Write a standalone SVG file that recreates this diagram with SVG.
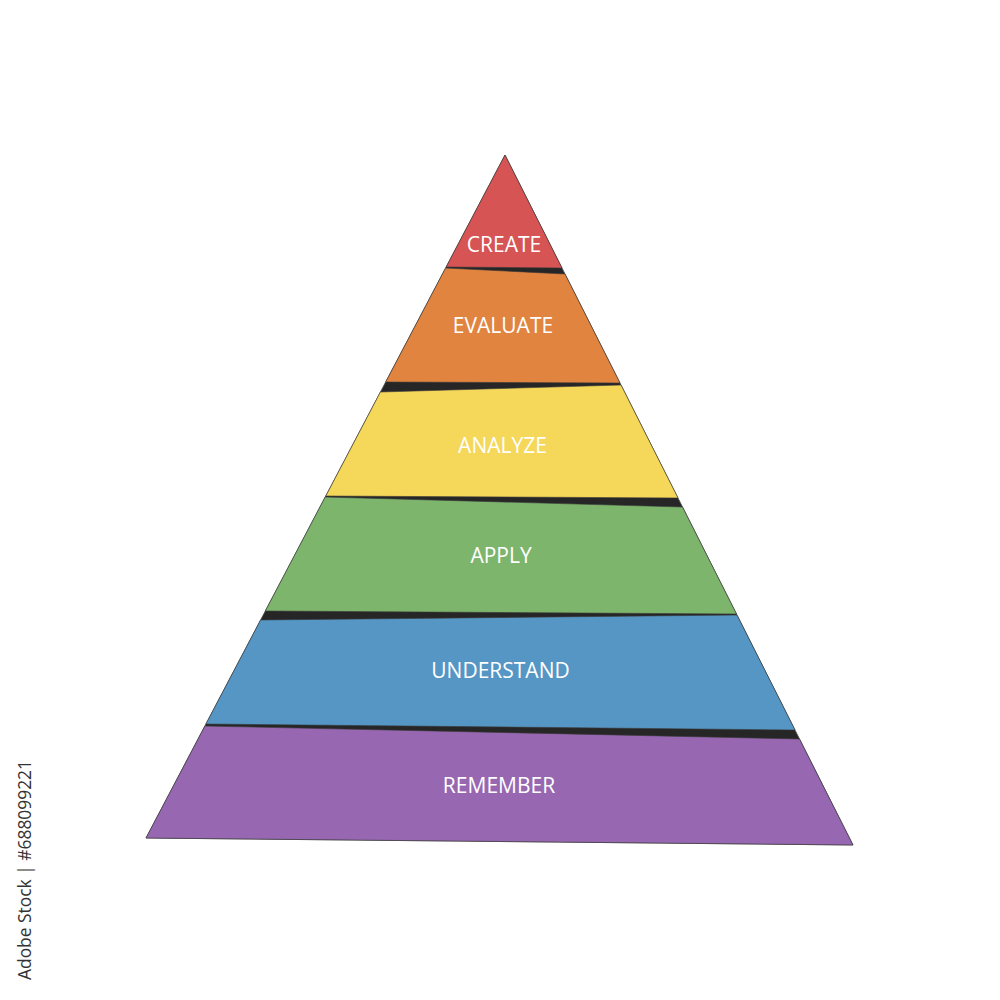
<svg xmlns="http://www.w3.org/2000/svg" width="1000" height="1000" viewBox="0 0 1000 1000">
  <style>
    .band { stroke: #3a3a3a; stroke-width: 0.6; stroke-linejoin: round; }
    .lbl { font-family: "Open Sans", "Liberation Sans", sans-serif; font-size: 21px; fill: #ffffff; text-anchor: middle; }
    .credit { font-family: "Open Sans", "Liberation Sans", sans-serif; font-size: 19px; fill: #333333; text-anchor: middle; }
  </style>
  <rect x="0" y="0" width="1000" height="1000" fill="#ffffff"/>
  <g id="pyramid-base">
    <polygon points="505,155 853,845 146,838" fill="#262626" stroke="#4a4a4a" stroke-width="0.8"/>
  </g>
  <g id="create">
    <polygon class="band" points="505,155 562,268 446.1,267" fill="#D65454"/>
    <text class="lbl" x="504" y="252">CREATE</text>
  </g>
  <g id="evaluate">
    <polygon class="band" points="445.6,268 565,274 620,383 385.7,382" fill="#E1843F"/>
    <text class="lbl" x="503" y="333">EVALUATE</text>
  </g>
  <g id="analyze">
    <polygon class="band" points="380.4,392 621,385 678,498 325.8,496" fill="#F5D75A"/>
    <text class="lbl" x="502.5" y="453">ANALYZE</text>
  </g>
  <g id="apply">
    <polygon class="band" points="325.2,497 682.5,507 736.5,614 265.3,611" fill="#7EB56D"/>
    <text class="lbl" x="501" y="563">APPLY</text>
  </g>
  <g id="understand">
    <polygon class="band" points="260.6,620 737,615 795,730 205.9,724" fill="#5596C4"/>
    <text class="lbl" x="500.5" y="678">UNDERSTAND</text>
  </g>
  <g id="remember">
    <polygon class="band" points="204.9,726 799.5,739 853,845 146,838" fill="#9767B1"/>
    <text class="lbl" x="499" y="793">REMEMBER</text>
  </g>
  <g id="connectors"></g>
  <text class="credit" x="870" y="31" transform="rotate(-90 31 870) translate(-839 839)" textLength="220" lengthAdjust="spacingAndGlyphs">Adobe Stock | #688099221</text>
</svg>
